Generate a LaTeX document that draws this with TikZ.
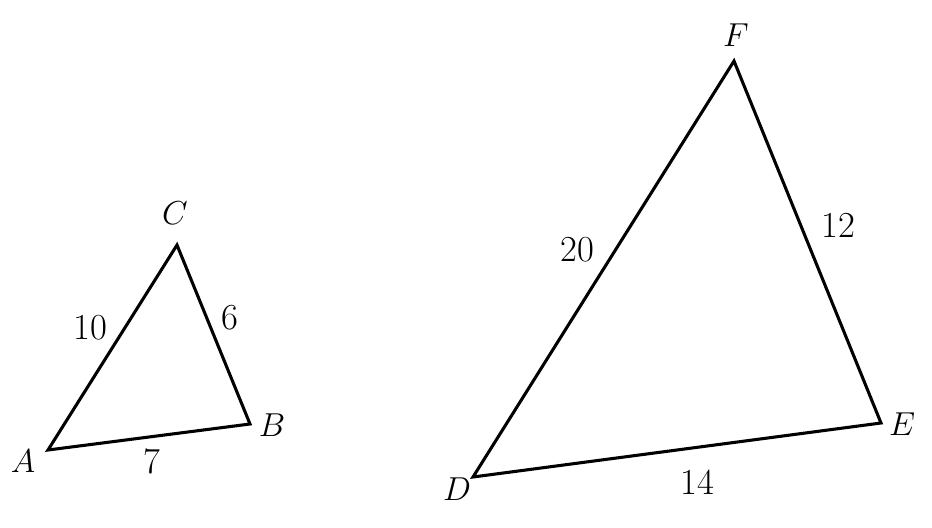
\documentclass[tikz,border=0pt]{standalone}
\usepackage{fontspec}
\begin{document}
\begin{tikzpicture}[x=0.75pt,y=-0.75pt,
  tri/.style={line width=2.3pt,line join=miter},
  vlab/.style={inner sep=0pt,font=\fontsize{24}{27}\selectfont},
  slab/.style={inner sep=0pt,font=\fontsize{27.5}{30}\selectfont}]
\useasboundingbox (0,0) rectangle (932,528);
\coordinate (A) at (48,450);
\coordinate (B) at (250,424);
\coordinate (C) at (177,245);
\coordinate (D) at (473,477);
\coordinate (E) at (881,423);
\coordinate (F) at (734,61);
\draw[tri] (A) -- (B) -- (C) -- cycle;
\draw[tri] (D) -- (E) -- (F) -- cycle;
\node[vlab] (lA) at (23,461) {$A$};
\node[vlab] (lB) at (272,425) {$B$};
\node[vlab] (lC) at (175,213) {$C$};
\node[slab] (l10) at (90,328) {10};
\node[slab] (l6) at (230,318) {6};
\node[slab] (l7) at (152,461) {7};
\node[vlab] (lF) at (736,35) {$F$};
\node[vlab] (lE) at (902,424) {$E$};
\node[vlab] (lD) at (457,489) {$D$};
\node[slab] (l20) at (577,250) {20};
\node[slab] (l12) at (838,225) {12};
\node[slab] (l14) at (697,482) {14};
\end{tikzpicture}
\end{document}
